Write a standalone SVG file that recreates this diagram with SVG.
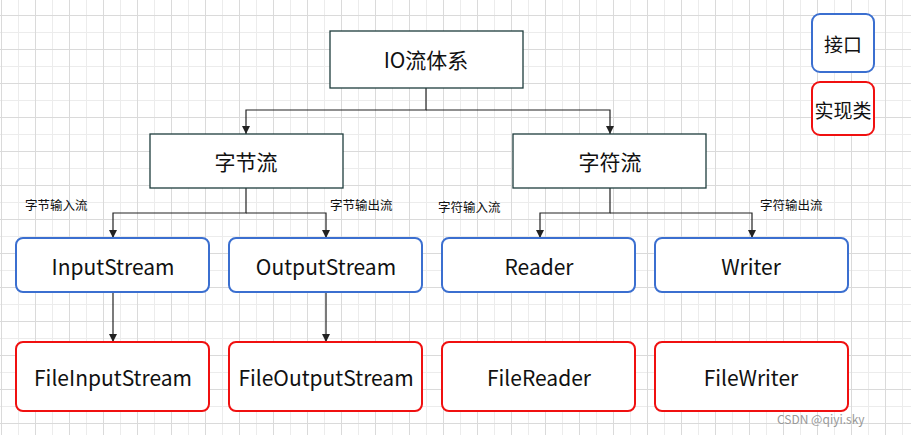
<svg xmlns="http://www.w3.org/2000/svg" width="911" height="435" viewBox="0 0 911 435">
<defs>
<pattern id="minor" x="1" y="15" width="17" height="17" patternUnits="userSpaceOnUse"><path d="M0.5 0V17M0 0.5H17" stroke="#ececec" stroke-width="1" fill="none"/></pattern>
<pattern id="major" x="1" y="15" width="34" height="34" patternUnits="userSpaceOnUse"><path d="M0.5 0V34M0 0.5H34" stroke="#dadada" stroke-width="1" fill="none"/></pattern>
<marker id="arr" viewBox="0 0 10 10" refX="10" refY="5" markerWidth="8" markerHeight="8" markerUnits="userSpaceOnUse" orient="auto"><path d="M0 0L10 5L0 10z" fill="#222"/></marker>
</defs>
<style>
.t{font-family:"Noto Sans CJK SC","Noto Sans",sans-serif;fill:#111;text-anchor:middle;dominant-baseline:central}
.big{font-size:21px}
.lg{font-size:19px}
.sm{font-size:12.5px;text-anchor:start}
.top{fill:#fff;stroke:#1e3c3c;stroke-width:1.3}
.if{fill:#fff;stroke:#3b6fd0;stroke-width:2}
.im{fill:#fff;stroke:#f01010;stroke-width:2}
.c{fill:none;stroke:#222;stroke-width:1.2}
</style>
<rect width="911" height="435" fill="#fff"/>
<rect width="911" height="435" fill="url(#minor)"/>
<rect width="911" height="435" fill="url(#major)"/>
<g id="connectors">
<path class="c" d="M426 88V110H246V134" marker-end="url(#arr)"/>
<path class="c" d="M426 110H610V134" marker-end="url(#arr)"/>
<path class="c" d="M246 188V213H113V238" marker-end="url(#arr)"/>
<path class="c" d="M246 213H326V238" marker-end="url(#arr)"/>
<path class="c" d="M610 188V213H540V238" marker-end="url(#arr)"/>
<path class="c" d="M610 213H752V238" marker-end="url(#arr)"/>
<path class="c" d="M113 292V342" marker-end="url(#arr)"/>
<path class="c" d="M326 292V342" marker-end="url(#arr)"/>
</g>
<g id="root"><rect class="top" x="330" y="31" width="193" height="57"/><text class="t big" x="426" y="59">IO流体系</text></g>
<g id="byte"><rect class="top" x="150" y="134" width="193" height="54"/><text class="t big" x="246" y="161">字节流</text></g>
<g id="char"><rect class="top" x="513" y="134" width="193" height="54"/><text class="t big" x="610" y="161">字符流</text></g>
<g id="inputstream"><rect class="if" x="16" y="238" width="193" height="54" rx="7"/><text class="t big" x="113" y="266">InputStream</text></g>
<g id="outputstream"><rect class="if" x="229" y="238" width="193" height="54" rx="7"/><text class="t big" x="326" y="266">OutputStream</text></g>
<g id="reader"><rect class="if" x="442" y="238" width="193" height="54" rx="7"/><text class="t big" x="539" y="266">Reader</text></g>
<g id="writer"><rect class="if" x="655" y="238" width="193" height="54" rx="7"/><text class="t big" x="751" y="266">Writer</text></g>
<g id="fileinputstream"><rect class="im" x="16" y="342" width="193" height="69" rx="7"/><text class="t big" x="113" y="377">FileInputStream</text></g>
<g id="fileoutputstream"><rect class="im" x="229" y="342" width="193" height="69" rx="7"/><text class="t big" x="326" y="377">FileOutputStream</text></g>
<g id="filereader"><rect class="im" x="442" y="342" width="193" height="69" rx="7"/><text class="t big" x="539" y="377">FileReader</text></g>
<g id="filewriter"><rect class="im" x="655" y="342" width="193" height="69" rx="7"/><text class="t big" x="751" y="377">FileWriter</text></g>
<g id="legend-interface"><rect class="if" x="812" y="14" width="62" height="58" rx="8"/><text class="t lg" x="843" y="43">接口</text></g>
<g id="legend-impl"><rect class="im" x="812" y="82" width="62" height="53" rx="8"/><text class="t lg" x="843" y="109">实现类</text></g>
<g id="labels">
<text class="t sm" x="25" y="204">字节输入流</text>
<text class="t sm" x="330" y="204">字节输出流</text>
<text class="t sm" x="438" y="206">字符输入流</text>
<text class="t sm" x="760" y="204">字符输出流</text>
<text class="t sm" x="777" y="418" style="fill:#999;font-size:12px">CSDN @qiyi.sky</text>
</g>
</svg>
